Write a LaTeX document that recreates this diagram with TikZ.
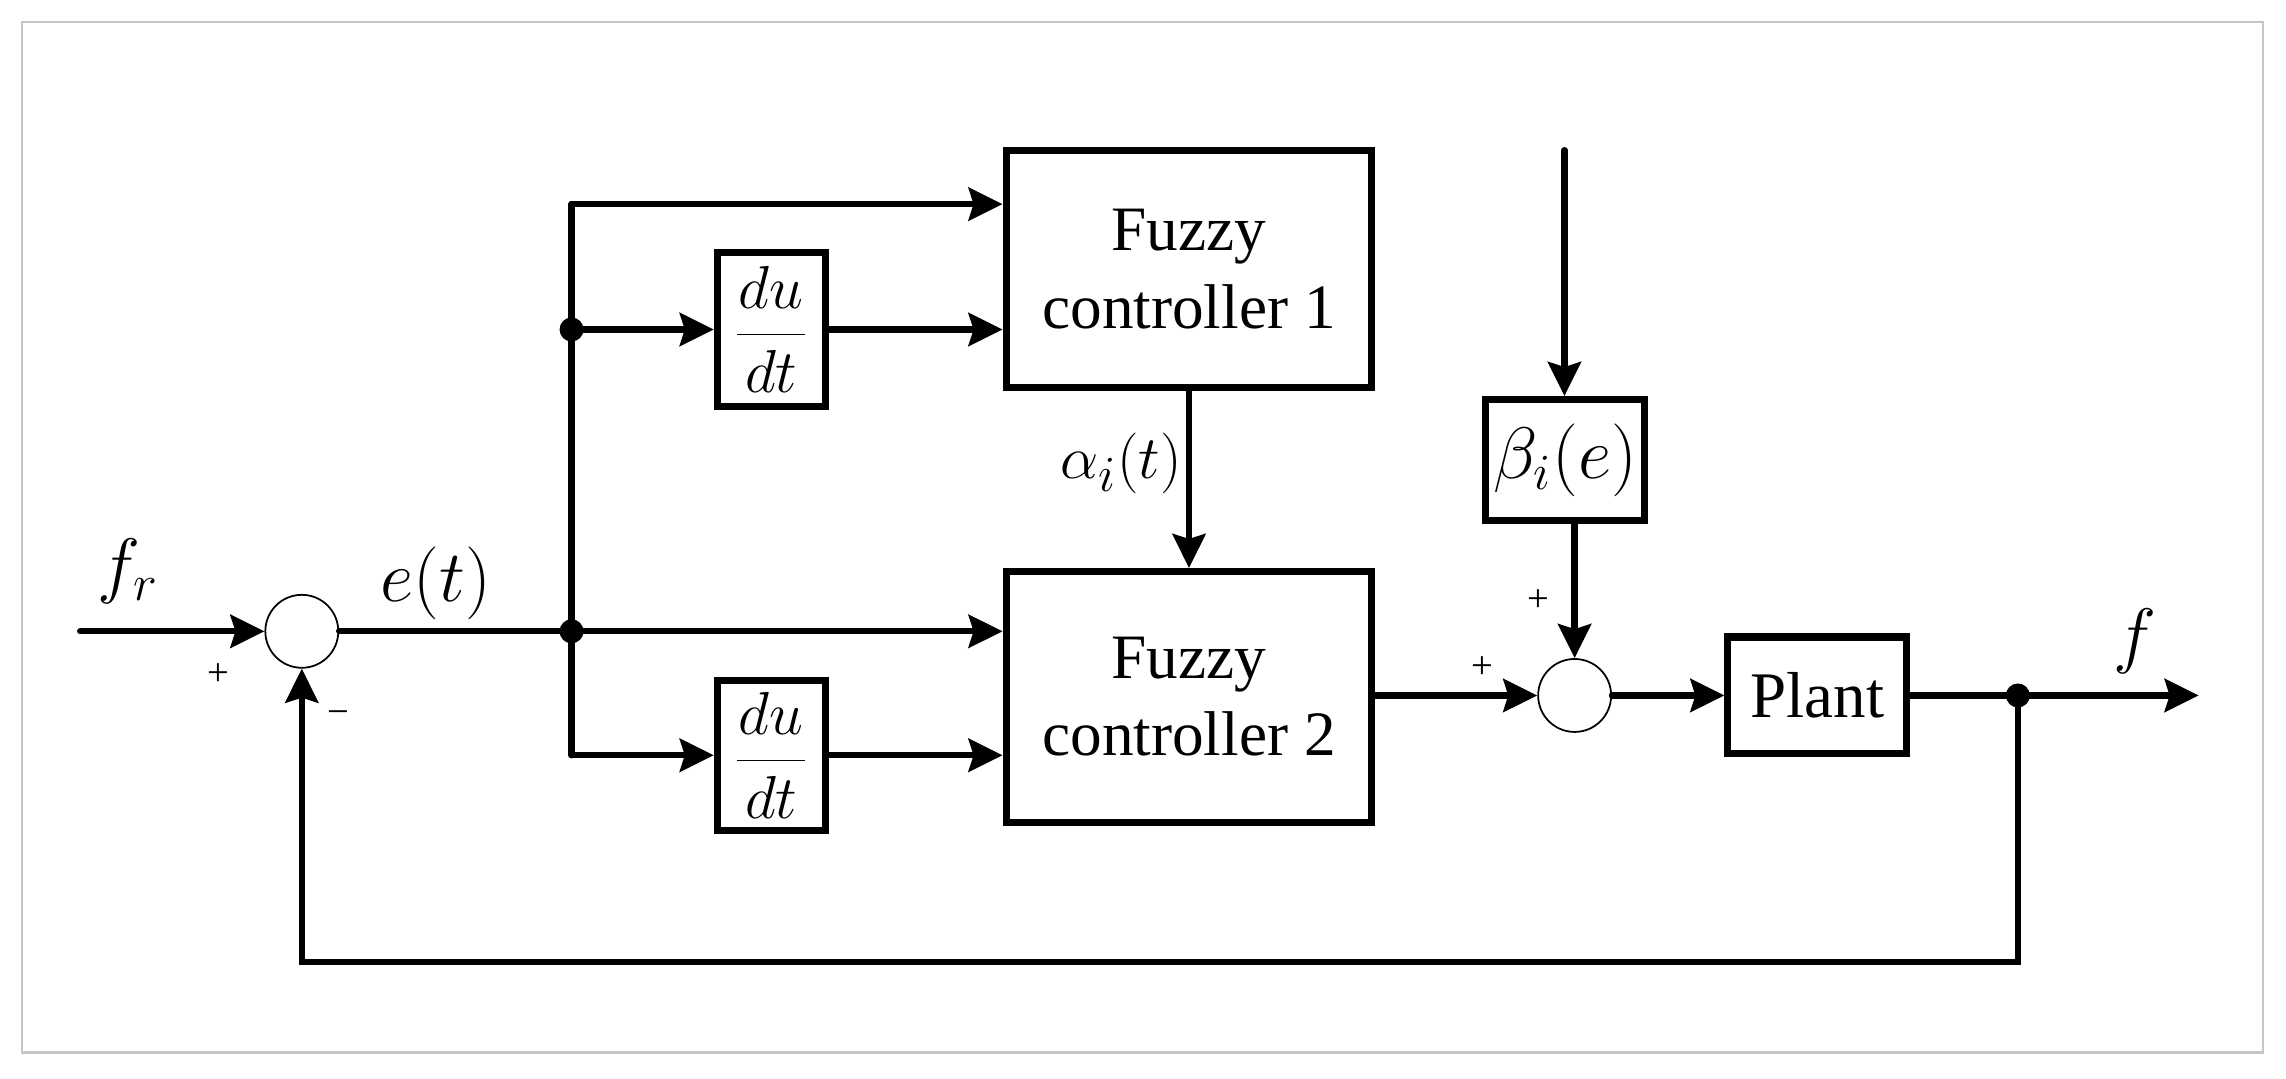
\documentclass[tikz,border=0pt]{standalone}
\usepackage{fontspec}
\setmainfont{Liberation Serif}
\usetikzlibrary{arrows.meta,calc}
\tikzset{
  line/.style={line width=1.8pt, line cap=round, line join=miter},
  conn/.style={line, -{Stealth[length=0.34cm,width=0.33cm,inset=0.05cm]}},
  blk/.style={draw, line width=2pt, inner sep=0pt, align=center},
  fc/.style={blk, minimum width=3.66cm, font=\fontsize{18}{22}\selectfont},
  ddt/.style={blk, minimum width=1.08cm, font=\fontsize{17.28}{20}\selectfont},
  sumc/.style={draw, circle, line width=0.5pt, minimum size=0.73cm, inner sep=0pt},
  jdot/.style={circle, fill=black, minimum size=0.24cm, inner sep=0pt},
  lbl/.style={inner sep=0pt, font=\fontsize{20}{24}\selectfont},
  sgn/.style={inner sep=0pt, font=\fontsize{11}{13}\selectfont}
}
\newcommand{\dudt}{$\displaystyle\frac{\hspace{0.5pt}du\rule[-3pt]{0pt}{3pt}\hspace{0.5pt}}{\rule{0pt}{15pt}dt}$}
\begin{document}
\begin{tikzpicture}[x=0.01458cm, y=-0.01458cm]
\useasboundingbox (0,0) rectangle (1567.9,739.4);
\draw[gray!45, line width=0.7pt] (15,15) rectangle (1552,722);

% blocks
\node[fc, minimum height=2.38cm] (fc1) at (815.5,184.5) {Fuzzy\\controller 1};
\node[fc, minimum height=2.51cm] (fc2) at (815.5,478) {Fuzzy\\controller 2};
\node[ddt, minimum height=1.55cm] (d1) at (529,226) {\dudt};
\node[ddt, minimum height=1.50cm] (d2) at (529,518) {\dudt};
\node[blk, minimum width=1.59cm, minimum height=1.21cm, font=\fontsize{20}{24}\selectfont] (beta) at (1073.5,315.5) {$\beta_i(e)$};
\node[blk, minimum width=1.79cm, minimum height=1.17cm, font=\fontsize{18.5}{22}\selectfont] (plant) at (1246.5,477) {Plant};
\node[sumc] (s1) at (207,433) {};
\node[sumc] (s2) at (1080,477) {};

% junctions and free ends
\node[jdot] (j1) at (392,433) {};
\node[jdot] (j2) at (392,226) {};
\node[jdot] (j3) at (1384,477) {};
\coordinate (in) at (55,433);
\coordinate (jt) at (392,140);
\coordinate (jb) at (392,518);
\coordinate (btop) at (1073,103);
\coordinate (out) at (1508,477);
\coordinate (fb) at (1384,660);

% connectors
\draw[conn] (in) -- (s1.west);
\draw[line] (s1.east) -- (j1.center);
\draw[line] (jt) -- (jb);
\draw[conn] (jt) -- (fc1.west |- jt);
\draw[conn] (j2.center) -- (d1.west);
\draw[conn] (d1.east) -- (fc1.west |- d1.east);
\draw[conn] (fc1.south) -- (fc2.north);
\draw[conn] (j1.center) -- (fc2.west |- j1);
\draw[conn] (jb) -- (d2.west);
\draw[conn] (d2.east) -- (fc2.west |- d2.east);
\draw[conn] (fc2.east |- s2) -- (s2.west);
\draw[conn] (btop) -- (beta.north -| btop);
\draw[conn] (s2.north |- beta.south) -- (s2.north);
\draw[conn] (s2.east) -- (plant.west);
\draw[conn] (plant.east) -- (out);
\draw[conn] (j3.center) -- (fb) -| (s1.south);

% labels
\node[lbl, font=\fontsize{22}{26}\selectfont] (lfr) at (88,392) {$f_r$};
\node[lbl] (let) at (299,400) {$e(t)$};
\node[lbl, font=\fontsize{19}{22}\selectfont] (lal) at (769,318) {$\alpha_i(t)$};
\node[lbl, font=\fontsize{22}{26}\selectfont] (lf) at (1464,440) {$f$};
\node[sgn] (p1) at (150,463) {+};
\node[sgn] (m1) at (232,492) {−};
\node[sgn] (p2) at (1017,458) {+};
\node[sgn] (p3) at (1055,412) {+};
\end{tikzpicture}
\end{document}
